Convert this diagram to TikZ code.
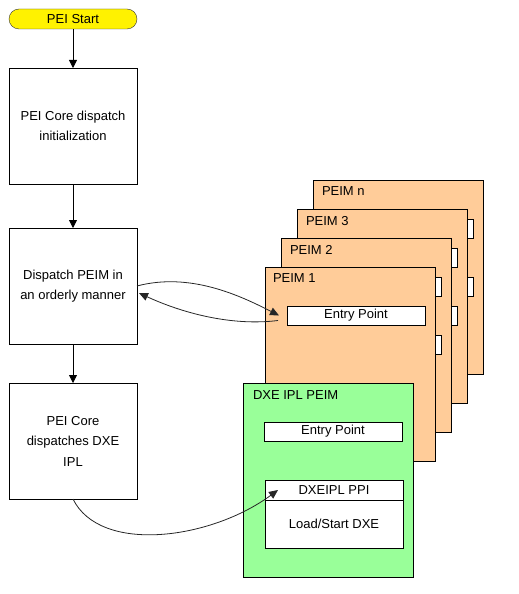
\documentclass[tikz,border=0pt]{standalone}
\usepackage{fontspec}
\setmainfont{Liberation Sans}
\usetikzlibrary{positioning, arrows.meta}

\definecolor{peimfill}{RGB}{255,204,153}
\definecolor{dxefill}{RGB}{153,255,153}

\begin{document}
\begin{tikzpicture}[
        x=1pt, y=-1pt,
        font=\fontsize{13}{20.5}\selectfont,
        every node/.style={inner sep=0pt, outer sep=0pt},
        Start/.style={rectangle, rounded corners=10pt, draw=black!80, fill=yellow, minimum width=128pt, minimum height=20pt},
        Step/.style={rectangle, draw=black, fill=white, minimum width=128pt, minimum height=116pt, align=center},
        Module/.style={rectangle, draw=black, minimum width=170pt, minimum height=194pt},
        Slot/.style={rectangle, draw=black, fill=white, minimum width=138pt, minimum height=19pt},
        Flow/.style={-{Triangle[length=8pt, width=8pt]}, line width=0.8pt},
        Link/.style={-{Triangle[length=9pt, width=8pt]}, line width=0.8pt, black!85}
    ]
    \useasboundingbox (0,0) rectangle (519,594);

    % Left column: the PEI core flow
    \node (start) [Start] at (73,19) {PEI Start};
    \node (init) [Step, below=39pt of start] {PEI Core dispatch\\initialization};
    \node (disp) [Step, below=44pt of init] {Dispatch PEIM in\\an orderly manner};
    \node (ipl) [Step, below=39pt of disp] {PEI Core\\dispatches DXE\\IPL};

    \draw[Flow] (start) -- (init);
    \draw[Flow] (init) -- (disp);
    \draw[Flow] (disp) -- (ipl);

    % Stack of PEIMs, back to front
    \foreach \nm/\px/\py/\lbl in {peimn/313/180/PEIM n, peimc/297/209/PEIM 3, peimb/281/238/PEIM 2} {
        \node (\nm) [Module, fill=peimfill, anchor=north west] at (\px,\py) {};
        \node [below right=7pt and 9pt of \nm.north west] {\lbl};
        \node (\nm-ep) [Slot, below right=39pt and 22pt of \nm.north west] {};
        \node (\nm-pp) [Slot, below right=97pt and 22pt of \nm.north west] {};
    }

    \node (peima) [Module, fill=peimfill, anchor=north west] at (265,267) {};
    \node [below right=7pt and 8pt of peima.north west] {PEIM 1};
    \node (peima-ep) [Slot, below right=39pt and 22pt of peima.north west] {Entry Point};

    % DXE IPL PEIM in front
    \node (dxe) [Module, fill=dxefill, anchor=north west] at (243,383) {};
    \node [below right=7.5pt and 10pt of dxe.north west] {DXE IPL PEIM};
    \node (dxe-ep) [Slot, below right=39pt and 21pt of dxe.north west] {Entry Point};
    \node (dxe-ppi) [Slot, minimum height=20pt, below right=97pt and 22pt of dxe.north west] {DXEIPL PPI};
    \node (dxe-load) [Slot, minimum height=48pt, below=0pt of dxe-ppi] {Load/Start DXE};

    % Calls between the core and the modules
    \draw[Link] (disp.east) .. controls +(53,-14) and +(-39,-20) .. ([xshift=-8]peima-ep.west);
    \draw[Link] ([shift={(-9,5)}]peima-ep.west) .. controls +(-48,6) and +(41,19) .. ([shift={(2,7)}]disp.east);
    \draw[Link] (ipl.south) .. controls +(27,55) and +(-68,50) .. ([xshift=13]dxe-ppi.west);

\end{tikzpicture}
\end{document}
